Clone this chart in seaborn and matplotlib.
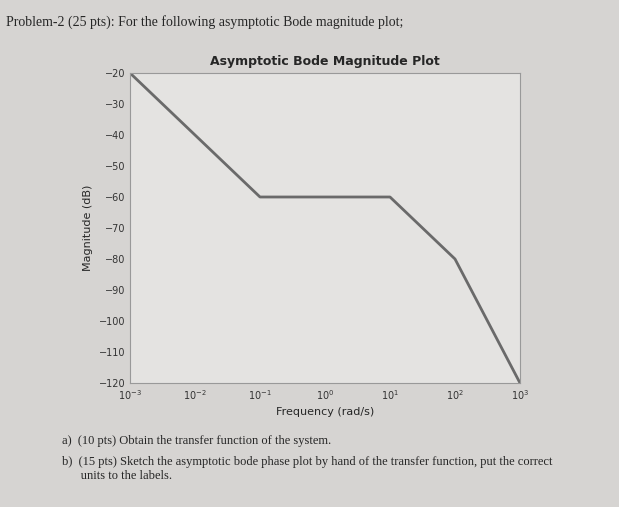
import matplotlib
matplotlib.use("Agg")
import matplotlib.pyplot as plt
import seaborn as sns
import pandas as pd

freq = [1e-3, 1e-1, 1e1, 1e2, 1e3]
mag_db = [-20, -60, -60, -80, -120]
yticks = [-20, -30, -40, -50, -60, -70, -80, -90, -100, -110, -120]

sns.set_style("white")
plt.rcParams['font.family'] = ['DejaVu Sans']
fig = plt.figure(figsize=(6.19, 5.07), dpi=100, facecolor='#d6d4d2')
ax = fig.add_axes([130/619, 1-383/507, 390/619, 310/507])
ax.set_facecolor('#e4e3e1')
df = pd.DataFrame({"f": freq, "m": mag_db})
sns.lineplot(data=df, x="f", y="m", ax=ax, color='#6a6a6a', lw=2)
ax.set_xscale('log')
ax.set_xlim(1e-3, 1e3)
ax.set_ylim(-120, -20)
ax.set_yticks(yticks)
ax.tick_params(labelsize=7, colors='#333', direction='in')
for s in ax.spines.values():
    s.set_color('#999')
ax.set_xlabel("Frequency (rad/s)", fontsize=8)
ax.set_ylabel("Magnitude (dB)", fontsize=8)
ax.set_title("Asymptotic Bode Magnitude Plot", fontsize=9, fontweight='bold')
fig.text(0.01, 0.95, "Problem-2 (25 pts): For the following asymptotic Bode magnitude plot;",
         fontsize=10, family='Liberation Serif')
fig.text(0.10, 0.125, "a)  (10 pts) Obtain the transfer function of the system.",
         fontsize=9, family='Liberation Serif')
fig.text(0.10, 0.055, "b)  (15 pts) Sketch the asymptotic bode phase plot by hand of the transfer function, put the correct\n      units to the labels.",
         fontsize=9, family='Liberation Serif')
fig.savefig("out.png", dpi=100, facecolor=fig.get_facecolor())
